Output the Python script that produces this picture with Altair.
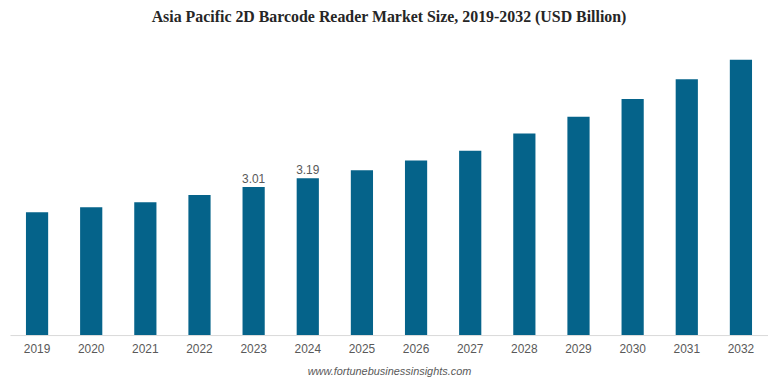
import altair as alt
import pandas as pd

years = ["2019", "2020", "2021", "2022", "2023", "2024", "2025",
         "2026", "2027", "2028", "2029", "2030", "2031", "2032"]
values = [2.50, 2.60, 2.70, 2.85, 3.01, 3.19, 3.35,
          3.55, 3.75, 4.10, 4.44, 4.80, 5.20, 5.60]
labels = ["", "", "", "", "3.01", "3.19", "", "", "", "", "", "", "", ""]

df = pd.DataFrame({"year": years, "value": values, "label": labels})

base = alt.Chart(df)

x = alt.X("year:N", sort=years,
          scale=alt.Scale(paddingInner=0.59, paddingOuter=0.295),
          axis=alt.Axis(title="www.fortunebusinessinsights.com", labelAngle=0,
                        ticks=False, domainColor="#d9d9d9", domainWidth=1,
                        labelColor="#595959", labelFontSize=12,
                        labelFont="Liberation Sans", labelPadding=9,
                        titleFont="Liberation Sans", titleFontSize=11,
                        titleFontStyle="italic", titleFontWeight="normal",
                        titleColor="#595959", titlePadding=11))
y = alt.Y("value:Q", scale=alt.Scale(domain=[0, 6], nice=False), axis=None)

bars = base.mark_bar(color="#05638A").encode(x=x, y=y)

text = base.mark_text(dy=-8, color="#595959", fontSize=12,
                      font="Liberation Sans").encode(
    x=alt.X("year:N", sort=years), y="value:Q", text="label:N")

chart = alt.layer(bars, text).properties(
    width=763, height=297,
    autosize=alt.AutoSizeParams(type="none"),
    padding={"left": 2, "top": 31, "right": 0, "bottom": 44},
    title=alt.TitleParams("Asia Pacific 2D Barcode Reader Market Size, 2019-2032 (USD Billion)",
                          font="Liberation Serif", fontSize=16, fontWeight="bold",
                          color="#262626", offset=15, anchor="middle"),
).configure_view(stroke=None)

chart.save("out.html", embed_options={"renderer": "svg", "actions": False})
